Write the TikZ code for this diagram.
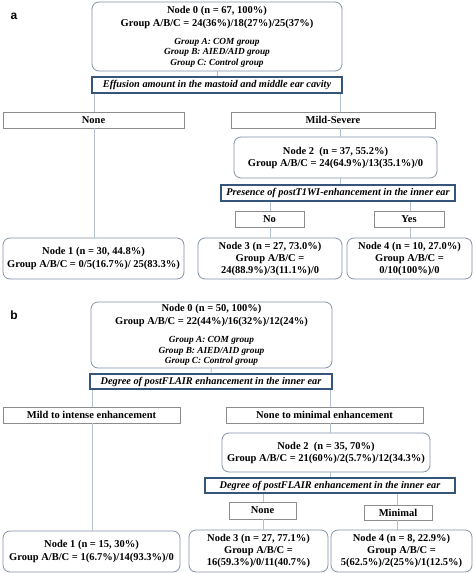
\documentclass[tikz,border=0pt]{standalone}
\usepackage{fontspec}
\setmainfont{Liberation Serif}
\newfontfamily\panelfont{Liberation Sans}
\definecolor{rboxc}{HTML}{8593A8}
\definecolor{lboxc}{HTML}{8C8C8C}
\definecolor{critc}{HTML}{35557A}
\definecolor{linec}{HTML}{B3C0D0}
\newcommand{\grpline}[1]{{\fontsize{9.3}{11}\selectfont\itshape #1}}
\begin{document}
\begin{tikzpicture}[x=1pt,y=-1pt,
  txt/.style={font=\fontsize{10.5}{12}\selectfont\bfseries, align=center, inner sep=0pt},
  rbox/.style={txt, draw=rboxc, line width=0.8pt, rounded corners=7pt, fill=white},
  lbox/.style={txt, draw=lboxc, line width=0.8pt, fill=white},
  cbox/.style={txt, draw=critc, line width=1.3pt, fill=white, font=\fontsize{10.3}{12}\selectfont\bfseries\itshape},
  conn/.style={draw=linec, line width=0.8pt},
  plabel/.style={font=\panelfont\bfseries\fontsize{12}{14}\selectfont, inner sep=0pt}]
\useasboundingbox (0,0) rectangle (474,573);
\fill[white] (0,0) rectangle (474,573);

% ---------- panel a ----------
\node[plabel] (pa) at (14,16) {a};
\node[rbox, minimum width=250, minimum height=69] (n0a) at (217,36.5)
  {Node 0 (n = 67, 100\%)\\[1pt]Group A/B/C = 24(36\%)/18(27\%)/25(37\%)\\[6pt]
   \grpline{Group A: COM group}\\[-1.5pt]
   \grpline{Group B: AIED/AID group}\\[-1.5pt]
   \grpline{Group C: Control group}};
\node[cbox, minimum width=250, minimum height=16] (c1a) at (217,85)
  {Effusion amount in the mastoid and middle ear cavity};
\node[lbox, minimum width=181, minimum height=16] (nonea) at (93.5,120) {None};
\node[lbox, minimum width=204, minimum height=16] (milda) at (333,120) {Mild-Severe};
\node[rbox, minimum width=203, minimum height=41] (n2a) at (335.5,157.5)
  {Node 2\ \ (n = 37, 55.2\%)\\Group A/B/C = 24(64.9\%)/13(35.1\%)/0};
\node[cbox, minimum width=234, minimum height=16] (c2a) at (338,193)
  {Presence of postT1WI-enhancement in the inner ear};
\node[lbox, minimum width=69, minimum height=16] (noa) at (269.5,219) {No};
\node[lbox, minimum width=70, minimum height=16] (yesa) at (409,219.5) {Yes};
\node[rbox, minimum width=181, minimum height=41] (n1a) at (93.5,258.5)
  {Node 1 (n = 30, 44.8\%)\\[1pt]Group A/B/C = 0/5(16.7\%)/ 25(83.3\%)};
\node[rbox, minimum width=144, minimum height=41] (n3a) at (270,258.5)
  {Node 3 (n = 27, 73.0\%)\\Group A/B/C =\\24(88.9\%)/3(11.1\%)/0};
\node[rbox, minimum width=125, minimum height=41] (n4a) at (409.5,258.5)
  {Node 4 (n = 10, 27.0\%)\\Group A/B/C =\\0/10(100\%)/0};

\draw[conn] (n0a.south) -- (c1a.north);
\draw[conn] (c1a.south -| 94,0) -- (nonea.north -| 94,0);
\draw[conn] (c1a.south -| 340,0) -- (milda.north -| 340,0);
\draw[conn] (milda.south -| 340,0) -- (n2a.north -| 340,0);
\draw[conn] (n2a.south -| 340,0) -- (c2a.north -| 340,0);
\draw[conn] (c2a.south -| 270,0) -- (noa.north -| 270,0);
\draw[conn] (c2a.south -| 410,0) -- (yesa.north -| 410,0);
\draw[conn] (nonea.south -| 94,0) -- (n1a.north -| 94,0);
\draw[conn] (noa.south -| 270,0) -- (n3a.north -| 270,0);
\draw[conn] (yesa.south -| 410,0) -- (n4a.north -| 410,0);

% ---------- panel b ----------
\node[plabel] (pb) at (14,315) {b};
\node[rbox, minimum width=241, minimum height=66] (n0b) at (211.5,335)
  {Node 0 (n = 50, 100\%)\\[1pt]Group A/B/C = 22(44\%)/16(32\%)/12(24\%)\\[6pt]
   \grpline{Group A: COM group}\\[-1.5pt]
   \grpline{Group B: AIED/AID group}\\[-1.5pt]
   \grpline{Group C: Control group}};
\node[cbox, minimum width=242, minimum height=15] (c1b) at (211,381.5)
  {Degree of postFLAIR enhancement in the inner ear};
\node[lbox, minimum width=177, minimum height=16] (mildb) at (91.5,415) {Mild to intense enhancement};
\node[lbox, minimum width=197, minimum height=16] (noneb) at (324.5,415) {None to minimal enhancement};
\node[rbox, minimum width=208, minimum height=39] (n2b) at (326,452.5)
  {Node 2\ \ (n = 35, 70\%)\\Group A/B/C = 21(60\%)/2(5.7\%)/12(34.3\%)};
\node[cbox, minimum width=250, minimum height=15] (c2b) at (330,485.5)
  {Degree of postFLAIR enhancement in the inner ear};
\node[lbox, minimum width=67, minimum height=17] (nonb) at (262.5,510.5) {None};
\node[lbox, minimum width=68, minimum height=15] (minb) at (398,512.5) {Minimal};
\node[rbox, minimum width=177, minimum height=41] (n1b) at (91.5,551.5)
  {Node 1 (n = 15, 30\%)\\[1pt]Group A/B/C = 1(6.7\%)/14(93.3\%)/0};
\node[rbox, minimum width=139, minimum height=42] (n3b) at (258.5,551)
  {Node 3 (n = 27, 77.1\%)\\Group A/B/C =\\16(59.3\%)/0/11(40.7\%)};
\node[rbox, minimum width=141, minimum height=42] (n4b) at (401.5,551)
  {Node 4 (n = 8, 22.9\%)\\Group A/B/C =\\5(62.5\%)/2(25\%)/1(12.5\%)};

\draw[conn] (n0b.south) -- (c1b.north);
\draw[conn] (c1b.south -| 92,0) -- (mildb.north -| 92,0);
\draw[conn] (c1b.south -| 330,0) -- (noneb.north -| 330,0);
\draw[conn] (noneb.south -| 330,0) -- (n2b.north -| 330,0);
\draw[conn] (n2b.south -| 330,0) -- (c2b.north -| 330,0);
\draw[conn] (c2b.south -| 263,0) -- (nonb.north -| 263,0);
\draw[conn] (c2b.south -| 397,0) -- (minb.north -| 397,0);
\draw[conn] (mildb.south -| 92,0) -- (n1b.north -| 92,0);
\draw[conn] (nonb.south -| 263,0) -- (n3b.north -| 263,0);
\draw[conn] (minb.south -| 397,0) -- (n4b.north -| 397,0);
\end{tikzpicture}
\end{document}
